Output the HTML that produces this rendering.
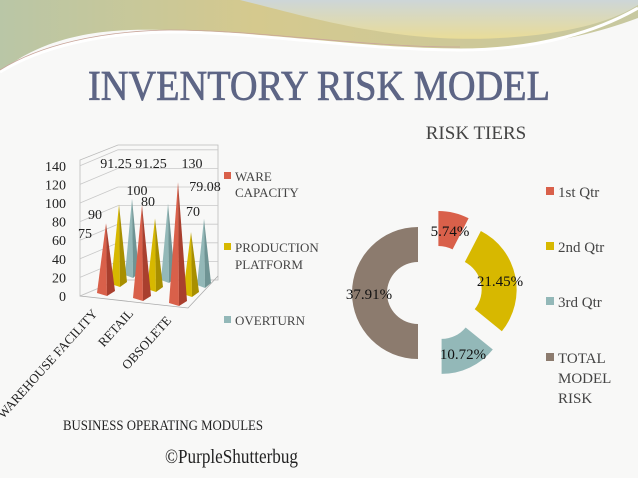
<!DOCTYPE html>
<html><head><meta charset="utf-8"><style>
body{margin:0;width:638px;height:478px;overflow:hidden;background:#f8f8f7;font-family:"Liberation Serif",serif}
svg{display:block}
</style></head><body>
<svg id="s" width="638" height="478" viewBox="0 0 638 478">
<defs>
<linearGradient id="g1" x1="0" y1="0" x2="1" y2="0"><stop offset="0" stop-color="#b9c6a6"/><stop offset="0.4" stop-color="#d5c98e"/><stop offset="1" stop-color="#c7c8a0"/></linearGradient>
<linearGradient id="g2" x1="0" y1="0" x2="0" y2="1"><stop offset="0" stop-color="#cdd6d8"/><stop offset="1" stop-color="#e9dc98"/></linearGradient>
</defs>
<g>
<path d="M0,0 L638,0 L638,18 C580,40 500,55 400,48 C300,40 200,28 130,30 C70,32 30,48 0,72 Z" fill="url(#g1)"/>
<path d="M240,0 L638,0 L638,5 C600,30 520,42 440,38 C360,33 300,15 240,0 Z" fill="url(#g2)"/>
<path d="M0,72 C40,47 100,33 170,32 C260,32 360,50 460,50 C540,50 600,30 638,8" fill="none" stroke="#fff" stroke-width="3"/>
<path d="M0,70 C40,45 100,31 170,30 C260,30 360,47 460,47" fill="none" stroke="#c9a59a" stroke-width="0.8"/>
</g>
<text x="319" y="100" text-anchor="middle" font-size="42" fill="#5d6585" stroke="#5d6585" stroke-width="0.7" textLength="462" lengthAdjust="spacingAndGlyphs">INVENTORY RISK MODEL</text>
<g id="bar3d"></g>
<g id="donut"></g>
<text x="63" y="430" font-size="15" fill="#222" textLength="200" lengthAdjust="spacingAndGlyphs">BUSINESS OPERATING MODULES</text>
<text x="165" y="463" font-size="20" fill="#222" textLength="133" lengthAdjust="spacingAndGlyphs">©PurpleShutterbug</text>
</svg>
<script>
var categories=["WAREHOUSE FACILITY","RETAIL","OBSOLETE"];
var seriesNames=["WARE CAPACITY","PRODUCTION PLATFORM","OVERTURN"];
var wareValues=[75,100,130];
var productionValues=[90,80,70];
var overturnValues=[91.25,91.25,79.08];
var valueLabels=[["75","100","130"],["90","80","70"],["91.25","91.25","79.08"]];
var yTicks=[0,20,40,60,80,100,120,140];
var donutLabels=["1st Qtr","2nd Qtr","3rd Qtr","TOTAL MODEL RISK"];
var donutValues=[5.74,21.45,10.72,37.91];

var NS="http://www.w3.org/2000/svg";
function mk(t,a,p){var e=document.createElementNS(NS,t);for(var k in a)e.setAttribute(k,a[k]);p.appendChild(e);return e;}
var g=document.getElementById('bar3d');
var scale=0.93;
function yW(v){return 280-v*scale;}
var w=mk('path',{d:"M80,296 L118,280 L218,280 L218,145 L118,145 L80,160 Z",fill:"none",stroke:"#bbb","stroke-width":"0.8"},g);


yTicks.forEach(function(t){
  var yb=yW(t),yf=yb+16;
  var gl=mk('path',{d:"M80,"+yf+" L118,"+yb+" L218,"+yb,fill:"none",stroke:"#c8c8c8","stroke-width":"0.8"},g);
  
  
  var tx=mk('text',{x:66,y:yf+5,"text-anchor":"end","font-size":"14",fill:"#222"},g);
  tx.textContent=t;
  
  
});
var fl=mk('path',{d:"M80,296 L188,308 L218,276",fill:"none",stroke:"#aaa","stroke-width":"0.8"},g);


var colors=[["#d9604a","#a93f2e"],["#d7b800","#a88f00"],["#93b8b8","#6f9494"]];
var all=[wareValues,productionValues,overturnValues];
for(var s=2;s>=0;s--){for(var c=0;c<3;c++){
  var bx=106+36*c+13*s, by=293+5*c-9*s, hw=9-s, v=all[s][c];
  var tipY=by-v*scale*(1-0.05*s);
  var cg=mk('g',{},g);
  
  
  mk('path',{d:"M"+(bx-hw)+","+by+" L"+bx+","+tipY+" L"+(bx+1)+","+(by+3)+" Z",fill:colors[s][0]},cg);
  mk('path',{d:"M"+(bx+1)+","+(by+3)+" L"+bx+","+tipY+" L"+(bx+hw)+","+(by-2)+" Z",fill:colors[s][1]},cg);
}}
var lblPos=[[[85,238],[137,195],[192,168]],[[95,219],[148,206],[193,216]],[[116,168],[151,168],[205,191]]];
for(var s=0;s<3;s++)for(var c=0;c<3;c++){
  var lt=mk('text',{x:lblPos[s][c][0],y:lblPos[s][c][1],"text-anchor":"middle","font-size":"14",fill:"#222"},g);
  lt.textContent=valueLabels[s][c];
  
  
}
var catEnd=[[98,314],[134,314],[172,321]];
categories.forEach(function(n,i){
  var t=mk('text',{x:0,y:0,"text-anchor":"end","font-size":"13",fill:"#222",transform:"translate("+catEnd[i][0]+","+catEnd[i][1]+") rotate(-48)"},g);
  t.textContent=n;
  
  
});
var legY=[[181,197],[252,269],[325]];
var legT=[["WARE","CAPACITY"],["PRODUCTION","PLATFORM"],["OVERTURN"]];
for(var s=0;s<3;s++){
  var lg=mk('g',{},g);
  
  
  mk('rect',{x:224,y:legY[s][0]-9,width:7,height:7,fill:colors[s][0]},lg);
  legT[s].forEach(function(tt,k){var t=mk('text',{x:235,y:legY[s][k],"font-size":"13",fill:"#444"},lg);t.textContent=tt;});
}
var d=document.getElementById('donut');
var t0=mk('text',{x:476,y:139,"text-anchor":"middle","font-size":"19",fill:"#444"},d);
t0.textContent="RISK TIERS";


var cx=434.5,cy=293,R=66,r=31,off=16.5;
var dc=["#d9604a","#d7b800","#93b8b8","#8c7b6e"];
var tot=donutValues.reduce(function(a,b){return a+b;},0);
var acc=0;
var lp=[[450,236],[500,286],[463,359],[369,299]];
donutValues.forEach(function(v,i){
  var a0=acc/tot*2*Math.PI;acc+=v;var a1=acc/tot*2*Math.PI;var am=(a0+a1)/2;
  var ox=cx+off*Math.sin(am),oy=cy-off*Math.cos(am);
  function P(rr,a){return (ox+rr*Math.sin(a)).toFixed(2)+","+(oy-rr*Math.cos(a)).toFixed(2);}
  var lg=(a1-a0)>Math.PI?1:0;
  var p=mk('path',{d:"M"+P(R,a0)+" A"+R+","+R+" 0 "+lg+" 1 "+P(R,a1)+" L"+P(r,a1)+" A"+r+","+r+" 0 "+lg+" 0 "+P(r,a0)+" Z",fill:dc[i]},d);
  
  
  var t=mk('text',{x:lp[i][0],y:lp[i][1],"text-anchor":"middle","font-size":"15",fill:"#111"},d);
  t.textContent=v.toFixed(2)+"%";
  
  
});
var ly=[197,252,307,363];
donutLabels.forEach(function(n,i){
  var lg=mk('g',{},d);
  
  
  mk('rect',{x:546,y:ly[i]-10,width:8,height:8,fill:dc[i]},lg);
  var parts=i==3?["TOTAL","MODEL","RISK"]:[n];
  parts.forEach(function(pp,k){var t=mk('text',{x:558,y:ly[i]+k*20,"font-size":"15",fill:"#444"},lg);t.textContent=pp;});
});
</script>
</body></html>
